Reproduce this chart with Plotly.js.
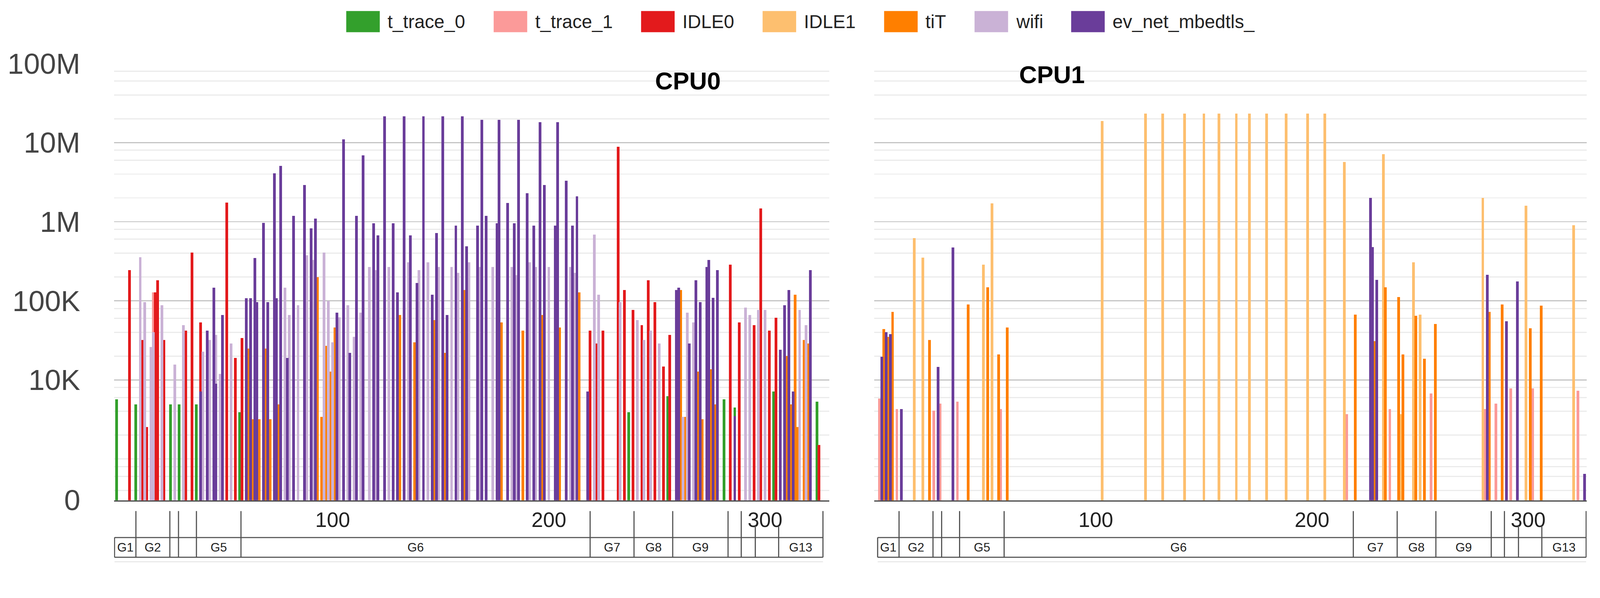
<!DOCTYPE html>
<html>
<head>
<meta charset="utf-8">
<script src="https://cdn.plot.ly/plotly-3.0.1.min.js"></script>
<style>
  html, body { margin: 0; padding: 0; background: #ffffff; overflow: hidden; }
  #chart { position: absolute; left: 0; top: 0; }
</style>
</head>
<body>
<div id="chart"></div>
<script>
// ---------------- DATA ----------------
const seriesNames  = ['t_trace_0', 't_trace_1', 'IDLE0', 'IDLE1', 'tiT', 'wifi', 'ev_net_mbedtls_'];
const seriesColors = ['#33a02c', '#fb9a99', '#e31a1c', '#fdbf6f', '#ff7f00', '#cab2d6', '#6a3d9a'];
const panelTitles  = ['CPU0', 'CPU1'];

const yTickVals  = [302, 1e4, 1e5, 1e6, 1e7, 1e8];
const yTickText  = ['0', '10K', '100K', '1M', '10M', '100M'];
const xTickVals  = [100, 200, 300];

const groupBounds = [-0.9, 9.0, 24.7, 28.7, 37.0, 57.6, 219.1, 239.4, 257.3, 282.9, 289.0, 295.5, 306.3, 326.8];
const groupLabels = ['G1', 'G2', '', '', 'G5', 'G6', 'G7', 'G8', 'G9', '', '', '', 'G13'];

// CPU0 : [sample index, value]
const cpu0_t_trace_0 = [[0,5700],[9,4900],[25,4900],[29,4900],[37,4900],[57,3900],[237,3900],[255,6200],[281,5700],[286,4500],[304,7100],[324,5300]];
const cpu0_t_trace_1 = [[17,128000]];
const cpu0_IDLE0 = [[6,245000],[12,32000],[14,2550],[18,128000],[19,182000],[22,32000],[32,42000],[35,408000],[39,53000],[51,1740000],[55,19000],[58,34000],[219,42000],[222,29000],[225,42000],[232,8900000],[235,137000],[239,77000],[243,49000],[246,182000],[249,96000],[253,14700],[256,37000],[284,285000],[288,53000],[295,49000],[298,1470000],[302,42000],[305,61000],[325,1500]];
const cpu0_IDLE1 = [];
const cpu0_tiT = [[61,25000],[63,3200],[66,3200],[69,25000],[71,3200],[75,4900],[93,200000],[95,3400],[97,27000],[99,12700],[101,46000],[131,66000],[138,30000],[147,57000],[152,22000],[161,137000],[178,53000],[188,42000],[197,66000],[205,46000],[214,128000],[261,137000],[263,3400],[269,12700],[271,3200],[275,13600],[277,4900],[310,20000],[312,4900],[314,119000],[315,2550],[318,32000],[320,29000]];
const cpu0_wifi = [[11,355000],[13,96000],[16,26000],[17,40000],[21,88000],[27,15600],[31,49000],[40,22600],[43,32000],[46,37000],[48,11900],[53,29000],[78,147000],[80,66000],[84,88000],[88,376000],[91,330000],[96,406000],[98,100000],[100,30000],[103,62000],[107,88000],[110,35000],[113,71000],[117,266000],[120,245000],[126,266000],[135,305000],[140,245000],[144,305000],[149,266000],[155,266000],[158,226000],[163,305000],[168,266000],[174,266000],[183,266000],[185,210000],[191,305000],[194,266000],[200,266000],[210,266000],[212,226000],[221,685000],[223,119000],[233,96000],[241,57000],[244,32000],[247,42000],[251,29000],[262,3400],[264,71000],[267,53000],[291,82000],[293,66000],[297,77000],[300,77000],[316,77000],[319,49000]];
const cpu0_ev_net = [[39,7100],[42,42000],[45,147000],[46,8900],[49,66000],[60,108000],[62,108000],[64,347000],[65,96000],[68,966000],[70,96000],[73,4100000],[74,108000],[76,5100000],[79,19000],[82,1190000],[87,2900000],[90,828000],[92,1100000],[102,71000],[105,11000000],[108,22000],[111,1190000],[114,6900000],[119,960000],[121,668000],[124,21500000],[128,960000],[130,128000],[133,21500000],[136,668000],[139,168000],[142,21500000],[146,119000],[148,720000],[151,21500000],[153,66000],[157,895000],[160,21500000],[162,490000],[167,895000],[169,19500000],[171,1190000],[176,960000],[177,19500000],[181,1720000],[184,960000],[186,19500000],[190,2300000],[193,895000],[196,18200000],[198,2900000],[203,895000],[204,18200000],[208,3300000],[211,895000],[213,2100000],[218,7100],[259,137000],[260,147000],[265,29000],[268,182000],[270,96000],[273,266000],[274,330000],[276,109000],[278,245000],[286,3500],[307,24000],[309,88000],[311,137000],[313,7100],[321,245000]];

// CPU1 : [sample index, value]
const cpu1_t_trace_0 = [];
const cpu1_t_trace_1 = [[0,5800],[8,4300],[25,4100],[28,5000],[36,5300],[56,4300],[216,3700],[236,4300],[255,6700],[280,4300],[285,5000],[292,7800],[302,7800],[323,7300]];
const cpu1_IDLE0 = [];
const cpu1_IDLE1 = [[16,620000],[20,350000],[48,287000],[52,1700000],[103,18800000],[123,23300000],[131,23300000],[141,23300000],[150,23300000],[157,23300000],[165,23300000],[171,23300000],[179,23300000],[188,23300000],[198,23300000],[206,23300000],[215,5700000],[233,7100000],[241,3700],[247,305000],[250,67000],[279,2000000],[299,1600000],[321,900000]];
const cpu1_tiT = [[2,44000],[4,35000],[6,72000],[23,32000],[41,90000],[50,148000],[55,21000],[59,46000],[220,67000],[229,31000],[234,148000],[240,111000],[242,21000],[248,65000],[252,18600],[257,51000],[282,72000],[288,90000],[301,45000],[306,87000]];
const cpu1_wifi = [];
const cpu1_ev_net = [[1,19600],[3,40000],[5,38000],[10,4300],[27,14600],[34,470000],[227,2000000],[228,480000],[230,184000],[281,213000],[290,55000],[295,176000],[326,650]];

const cpu0Series = [cpu0_t_trace_0, cpu0_t_trace_1, cpu0_IDLE0, cpu0_IDLE1, cpu0_tiT, cpu0_wifi, cpu0_ev_net];
const cpu1Series = [cpu1_t_trace_0, cpu1_t_trace_1, cpu1_IDLE0, cpu1_IDLE1, cpu1_tiT, cpu1_wifi, cpu1_ev_net];

// ---------------- LAYOUT HELPERS ----------------
// design grid is 4292 x 1532; everything is scaled to the real viewport
const REF_W = 4292, REF_H = 1532;
const W = window.innerWidth || REF_W;
const H = window.innerHeight || REF_H;
const S = W / REF_W;
const FONT = 'Arial, "Liberation Sans", sans-serif';
const px2x = p => p / REF_W;
const px2y = p => 1 - (p * S) / H;

const axisFloor = 302;
const yRange = [Math.log10(axisFloor) - 0.002, 8.002];
const minorMult = [2, 4, 6, 8];
const minorVals = [1000];
for (let e = 2; e <= 7; e++) minorMult.forEach(m => { const v = m * Math.pow(10, e); if (v > axisFloor) minorVals.push(v); });

const traces = [];
function addTraces(list, xa, ya) {
  list.forEach((pairs, i) => {
    traces.push({
      type: 'bar', name: seriesNames[i],
      x: pairs.map(p => p[0]), y: pairs.map(p => p[1]),
      width: 1.25,
      marker: { color: seriesColors[i], line: { width: 0 } },
      xaxis: xa, yaxis: ya, showlegend: false, hoverinfo: 'x+y+name'
    });
  });
}
addTraces(cpu0Series, 'x', 'y');
addTraces(cpu1Series, 'x2', 'y2');

function yAxis(showLabels, anchor) {
  return {
    type: 'log', range: yRange, domain: [px2y(1343), px2y(170)], anchor: anchor,
    tickmode: 'array', tickvals: yTickVals, ticktext: yTickText,
    showticklabels: showLabels,
    ticks: 'outside', ticklen: 74 * S, tickwidth: 1, tickcolor: 'rgba(0,0,0,0)',
    tickfont: { family: FONT, size: 78 * S, color: '#444444' },
    showgrid: true, gridcolor: '#c4c4c4', gridwidth: 3 * S,
    minor: { tickmode: 'array', tickvals: minorVals, showgrid: true, gridcolor: '#ebebeb', gridwidth: 3 * S, ticks: '' },
    zeroline: false, showline: false, fixedrange: true
  };
}
function xAxis(domain, range, anchor) {
  return {
    domain: domain, range: range, anchor: anchor,
    tickmode: 'array', tickvals: xTickVals, ticks: '', ticklabelstandoff: 16 * S,
    tickfont: { family: FONT, size: 56 * S, color: '#222222' },
    showgrid: false, zeroline: false,
    showline: true, linecolor: '#444444', linewidth: 4 * S, fixedrange: true
  };
}

const shapes = [];
const annotations = [];

function addTable(xref) {
  const a = groupBounds[0], b = groupBounds[groupBounds.length - 1];
  const dark = { color: '#505050', width: 3 * S };
  shapes.push({ type: 'line', xref, yref: 'paper', x0: a, x1: b, y0: px2y(1443), y1: px2y(1443), line: dark });
  shapes.push({ type: 'line', xref, yref: 'paper', x0: a, x1: b, y0: px2y(1496), y1: px2y(1496), line: dark });
  shapes.push({ type: 'line', xref, yref: 'paper', x0: a, x1: b, y0: px2y(1508), y1: px2y(1508), line: { color: '#e8e8e8', width: 3 * S } });
  shapes.push({ type: 'line', xref, yref: 'paper', x0: a, x1: a, y0: px2y(1443), y1: px2y(1496), line: dark });
  for (let i = 1; i < groupBounds.length; i++) {
    const v = groupBounds[i];
    const nearLabel = xTickVals.some(t => Math.abs(t - v) < 8);
    shapes.push({ type: 'line', xref, yref: 'paper', x0: v, x1: v, y0: px2y(nearLabel ? 1412 : 1372), y1: px2y(1496), line: dark });
  }
  groupLabels.forEach((lab, i) => {
    if (!lab) return;
    annotations.push({ xref, yref: 'paper', x: (groupBounds[i] + groupBounds[i + 1]) / 2, y: px2y(1469),
      text: lab, showarrow: false, xanchor: 'center', yanchor: 'middle',
      font: { family: FONT, size: 33 * S, color: '#222222' } });
  });
}
addTable('x');
addTable('x2');

annotations.push({ xref: 'paper', yref: 'paper', x: px2x(1845), y: px2y(217), text: '<b>' + panelTitles[0] + '</b>',
  showarrow: false, xanchor: 'center', yanchor: 'middle', font: { family: FONT, size: 66 * S, color: '#000000' } });
annotations.push({ xref: 'paper', yref: 'paper', x: px2x(2822), y: px2y(200), text: '<b>' + panelTitles[1] + '</b>',
  showarrow: false, xanchor: 'center', yanchor: 'middle', font: { family: FONT, size: 66 * S, color: '#000000' } });

(function () {
  const ctx = document.createElement('canvas').getContext('2d');
  ctx.font = '50px Arial';
  const boxW = 90, boxH = 57, gapBT = 19, gapItem = 78, cy = 58;
  const widths = seriesNames.map(n => ctx.measureText(n).width);
  let total = 0;
  widths.forEach((w, i) => { total += boxW + gapBT + w + (i < widths.length - 1 ? gapItem : 0); });
  let x = (REF_W - total) / 2;
  seriesNames.forEach((n, i) => {
    shapes.push({ type: 'rect', xref: 'paper', yref: 'paper', x0: px2x(x), x1: px2x(x + boxW),
      y0: px2y(cy + boxH / 2), y1: px2y(cy - boxH / 2), fillcolor: seriesColors[i], line: { width: 0 } });
    annotations.push({ xref: 'paper', yref: 'paper', x: px2x(x + boxW + gapBT), y: px2y(cy), text: n,
      showarrow: false, xanchor: 'left', yanchor: 'middle', font: { family: FONT, size: 50 * S, color: '#222222' } });
    x += boxW + gapBT + widths[i] + gapItem;
  });
})();

const layout = {
  width: W, height: H, autosize: false,
  margin: { l: 0, r: 0, t: 0, b: 0, pad: 0 },
  paper_bgcolor: '#ffffff', plot_bgcolor: '#ffffff',
  barmode: 'overlay', bargap: 0,
  showlegend: false,
  font: { family: FONT, color: '#222222' },
  xaxis: xAxis([px2x(306), px2x(2225)], [-1.1, 329.8], 'y'),
  xaxis2: xAxis([px2x(2345), px2x(4256)], [-2.5, 327.0], 'y2'),
  yaxis: yAxis(true, 'x'),
  yaxis2: yAxis(false, 'x2'),
  shapes: shapes,
  annotations: annotations
};

Plotly.newPlot('chart', traces, layout, { displayModeBar: false, staticPlot: true });
</script>
</body>
</html>
